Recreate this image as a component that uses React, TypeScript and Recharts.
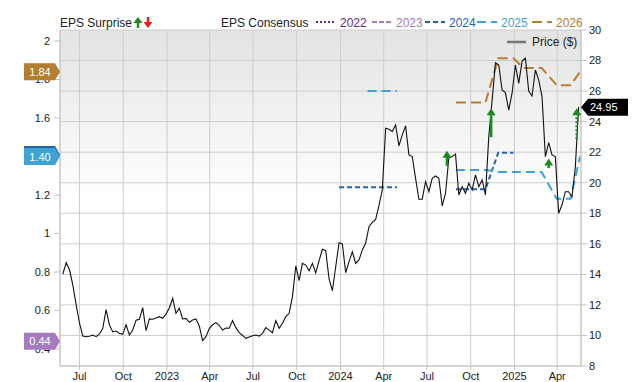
import React from "react";
import {
  CartesianGrid,
  ComposedChart,
  Line,
  ReferenceDot,
  ReferenceLine,
  XAxis,
  YAxis,
} from "recharts";

const DAY_MS = 86400000;
const toDay = (iso: string) => Date.parse(iso + "T00:00:00Z") / DAY_MS;

// weekly closing price, first week ending 2022-05-27
const priceStart = "2022-05-27";
const priceValues = [
  14.02, 14.77, 14.3, 13.3, 12.0, 10.8, 9.96, 9.92, 9.95, 10.03,
  9.92, 10.1, 10.47, 11.7, 10.68, 10.23, 10.29, 10.14, 10.07, 10.7,
  10.03, 10.36, 11.0, 11.06, 11.82, 10.31, 11.08, 11.06, 11.15, 11.23,
  11.12, 11.4, 11.8, 12.43, 11.45, 11.78, 11.08, 11.12, 10.86, 11.01,
  11.08, 10.62, 9.66, 9.92, 10.45, 10.7, 10.84, 10.65, 10.36, 10.49,
  10.47, 10.97, 10.51, 10.18, 10.0, 9.81, 9.9, 9.98, 10.03, 9.96,
  10.14, 10.51, 10.35, 10.18, 10.97, 10.47, 10.8, 11.23, 11.45, 12.54,
  14.55, 13.59, 14.72, 14.61, 14.24, 14.72, 14.1, 14.9, 15.64, 15.55,
  13.7, 12.93, 14.5, 16.07, 15.99, 14.11, 14.83, 15.48, 14.72, 14.94,
  15.6, 16.04, 17.12, 17.4, 17.6, 18.5, 19.53, 23.57, 23.5, 23.35,
  23.78, 22.41, 23.13, 23.72, 21.82, 21.71, 20.29, 18.92, 18.92, 20.07,
  19.41, 20.29, 20.44, 20.29, 18.48, 19.31, 21.64, 21.71, 21.88, 19.2,
  19.74, 19.31, 19.97, 19.53, 20.51, 19.74, 20.18, 19.2, 23.0, 25.4,
  27.86, 27.71, 26.07, 25.9, 24.76, 25.86, 27.71, 26.51, 27.95, 28.15,
  26.0, 25.68, 27.38, 26.73, 25.64, 21.71, 22.63, 21.82, 21.71, 18.0,
  18.54, 19.41, 19.41, 19.08, 21.0, 24.95,
];
const lastPrice = 24.95;

const xDomain = ["2022-05-21", "2025-05-21"];
const xTickDates = [
  "2022-07-01", "2022-10-01", "2023-01-01", "2023-04-01", "2023-07-01", "2023-10-01",
  "2024-01-01", "2024-04-01", "2024-07-01", "2024-10-01", "2025-01-01", "2025-04-01",
];
const xTickLabels = ["Jul", "Oct", "2023", "Apr", "Jul", "Oct", "2024", "Apr", "Jul", "Oct", "2025", "Apr"];

const epsTicks = [0.4, 0.6, 0.8, 1, 1.2, 1.4, 1.6, 1.8, 2];
const priceTicks = [8, 10, 12, 14, 16, 18, 20, 22, 24, 26, 28, 30];

// EPS consensus by fiscal year (null = gap)
const cons2024Dates = ["2023-12-29", "2024-04-29", "2024-06-15", "2024-08-31", "2024-11-01", "2024-11-28", "2024-12-30"];
const cons2024 = [1.24, 1.24, null, 1.23, 1.23, 1.42, 1.42];
const cons2025Dates = [
  "2024-02-27", "2024-04-29", "2024-06-15", "2024-08-31", "2024-11-01", "2024-11-28",
  "2025-02-27", "2025-03-31", "2025-04-29", "2025-05-19",
];
const cons2025 = [1.74, 1.74, null, 1.33, 1.33, 1.32, 1.32, 1.18, 1.18, 1.4];
const cons2026Dates = [
  "2024-08-31", "2024-11-01", "2024-11-28", "2024-12-30", "2025-01-20",
  "2025-02-27", "2025-03-31", "2025-04-29", "2025-05-19",
];
const cons2026 = [1.68, 1.68, 1.91, 1.91, 1.86, 1.86, 1.77, 1.77, 1.84];

// EPS surprise arrows: consensus -> actual
const surpriseDates = ["2024-08-12", "2024-11-13", "2025-03-14", "2025-05-12"];
const surpriseBase = [1.35, 1.5, 1.34, 1.49];
const surpriseActual = [1.43, 1.65, 1.39, 1.65];
const surprisePending = [false, false, false, true];

// latest consensus badges (2024 sits behind 2025, its text hidden)
const badgeYears = ["2023", "2024", "2025", "2026"];
const badgeValues = [0.44, 1.41, 1.4, 1.84];
const badgeShowText = [true, false, true, true];

const yearColors: Record<string, string> = {
  "2022": "#5a2d80",
  "2023": "#a57bbd",
  "2024": "#2462ab",
  "2025": "#3fa2d3",
  "2026": "#b37e30",
};
const yearDash: Record<string, string> = {
  "2022": "2 2",
  "2023": "5 2",
  "2024": "5 3",
  "2025": "9 5",
  "2026": "10 5",
};
const legendYears = ["2022", "2023", "2024", "2025", "2026"];

const GREEN = "#1f8a1f";
const FONT = "'Liberation Sans', Arial, Helvetica, sans-serif";
const MARGIN = { top: 30, right: 0, bottom: 0, left: 0 };
const EPS_DOMAIN = [0.312, 2.057];
const PRICE_DOMAIN = [8, 30];

const priceData = priceValues.map((p, i) => ({ t: toDay(priceStart) + 7 * i, price: p }));
const series = (dates: string[], vals: (number | null)[]) =>
  dates.map((d, i) => ({ t: toDay(d), v: vals[i] }));

const consensus = [
  { year: "2024", data: series(cons2024Dates, cons2024) },
  { year: "2025", data: series(cons2025Dates, cons2025) },
  { year: "2026", data: series(cons2026Dates, cons2026) },
];

function LeftBadge(props: any) {
  const { viewBox, color, text } = props;
  const x = viewBox.x;
  const y = viewBox.y;
  const h = 8.5;
  return (
    <g>
      <polygon
        points={`${x - 36},${y - h} ${x - 5},${y - h} ${x},${y} ${x - 5},${y + h} ${x - 36},${y + h}`}
        fill={color}
      />
      {text ? (
        <text x={x - 20} y={y + 4} textAnchor="middle" fill="#fff" fontSize={11} fontFamily={FONT}>
          {text}
        </text>
      ) : null}
    </g>
  );
}

function RightBadge(props: any) {
  const { viewBox, text } = props;
  const x = viewBox.x + viewBox.width;
  const y = viewBox.y;
  const h = 8.5;
  return (
    <g>
      <polygon
        points={`${x},${y} ${x + 7},${y - h} ${x + 47},${y - h} ${x + 47},${y + h} ${x + 7},${y + h}`}
        fill="#000"
      />
      <text x={x + 9} y={y + 4} fill="#fff" fontSize={11} fontFamily={FONT}>
        {text}
      </text>
    </g>
  );
}

function ArrowHead(props: any) {
  const { cx, cy } = props;
  return <polygon points={`${cx},${cy} ${cx + 4.5},${cy + 7} ${cx - 4.5},${cy + 7}`} fill={GREEN} />;
}

function LegendOverlay() {
  const swatchX = [316, 372, 425, 477, 532];
  return (
    <svg
      width={640}
      height={60}
      style={{ position: "absolute", left: 0, top: 0, pointerEvents: "none" }}
      fontFamily={FONT}
    >
      <text x={60} y={27} fontSize={12} fill="#222">EPS Surprise</text>
      <line x1={138} y1={28} x2={138} y2={22} stroke={GREEN} strokeWidth={2.5} />
      <polygon points="138,17 142.5,23 133.5,23" fill={GREEN} />
      <line x1={148} y1={17} x2={148} y2={23} stroke="#e8201c" strokeWidth={2.5} />
      <polygon points="148,28 152.5,22 143.5,22" fill="#e8201c" />
      <text x={221} y={27} fontSize={12} fill="#222">EPS Consensus</text>
      {legendYears.map((yr, i) => (
        <g key={yr}>
          <line
            x1={swatchX[i]}
            y1={22}
            x2={swatchX[i] + 20}
            y2={22}
            stroke={yearColors[yr]}
            strokeWidth={2}
            strokeDasharray={yearDash[yr]}
          />
          <text x={swatchX[i] + 24} y={27} fontSize={12} fill={yearColors[yr]}>
            {yr}
          </text>
        </g>
      ))}
      <line x1={507} y1={42} x2={526} y2={42} stroke="#777" strokeWidth={2.5} />
      <text x={532} y={46} fontSize={12} fill="#222">Price ($)</text>
    </svg>
  );
}

export default function App() {
  const xTicks = xTickDates.map(toDay);
  const labelOf = (v: number) => xTickLabels[xTicks.indexOf(v)] ?? "";
  const xDom = [toDay(xDomain[0]), toDay(xDomain[1])];
  return (
    <div style={{ position: "absolute", left: 0, top: 0, width: 640, height: 382, background: "#fff" }}>
      <svg width={0} height={0} style={{ position: "absolute" }}>
        <defs>
          <linearGradient id="plotBg" x1="0" y1="0" x2="0" y2="1">
            <stop offset="0%" stopColor="#e3e3e3" />
            <stop offset="50%" stopColor="#ffffff" />
            <stop offset="100%" stopColor="#ffffff" />
          </linearGradient>
        </defs>
      </svg>
      <div style={{ position: "absolute", left: 0, top: 0 }}>
        <ComposedChart width={640} height={382} data={priceData} margin={MARGIN} style={{ fontFamily: FONT }}>
          <CartesianGrid yAxisId="price" stroke="#cdcdcd" fill="url(#plotBg)" fillOpacity={1} />
          <XAxis
            dataKey="t"
            type="number"
            domain={xDom}
            ticks={xTicks}
            tickFormatter={labelOf}
            allowDataOverflow
            height={16}
            tickSize={4}
            tick={{ fill: "#222", fontSize: 11 }}
            stroke="#c4c4c4"
          />
          <YAxis
            yAxisId="eps"
            orientation="left"
            type="number"
            domain={EPS_DOMAIN}
            ticks={epsTicks}
            allowDataOverflow
            width={60}
            tickSize={6}
            tickMargin={4}
            tick={{ fill: "#222", fontSize: 11 }}
            stroke="#c4c4c4"
          />
          <YAxis
            yAxisId="price"
            orientation="right"
            type="number"
            domain={PRICE_DOMAIN}
            ticks={priceTicks}
            allowDataOverflow
            width={59}
            tickSize={6}
            tick={{ fill: "#222", fontSize: 11 }}
            stroke="#c4c4c4"
          />
          {consensus.map((c) => (
            <Line
              key={c.year}
              data={c.data}
              dataKey="v"
              yAxisId="eps"
              type="linear"
              stroke={yearColors[c.year]}
              strokeWidth={2}
              strokeDasharray={yearDash[c.year]}
              dot={false}
              activeDot={false}
              isAnimationActive={false}
            />
          ))}
          <Line
            dataKey="price"
            yAxisId="price"
            type="linear"
            stroke="#111"
            strokeWidth={1.1}
            dot={false}
            activeDot={false}
            isAnimationActive={false}
          />
        </ComposedChart>
      </div>
      {/* overlay chart with the same layout, so badges and arrows sit above the axes */}
      <div style={{ position: "absolute", left: 0, top: 0, pointerEvents: "none" }}>
        <ComposedChart width={640} height={382} data={priceData} margin={MARGIN} style={{ fontFamily: FONT }}>
          <XAxis
            dataKey="t"
            type="number"
            domain={xDom}
            allowDataOverflow
            height={16}
            tick={false}
            tickLine={false}
            axisLine={false}
          />
          <YAxis
            yAxisId="eps"
            orientation="left"
            type="number"
            domain={EPS_DOMAIN}
            allowDataOverflow
            width={60}
            tick={false}
            tickLine={false}
            axisLine={false}
          />
          <YAxis
            yAxisId="price"
            orientation="right"
            type="number"
            domain={PRICE_DOMAIN}
            allowDataOverflow
            width={59}
            tick={false}
            tickLine={false}
            axisLine={false}
          />
          {surpriseDates.map((d, i) => (
            <ReferenceLine
              key={"s" + d}
              yAxisId="eps"
              segment={[
                { x: toDay(d), y: surpriseBase[i] },
                { x: toDay(d), y: surpriseActual[i] - 0.02 },
              ]}
              stroke={GREEN}
              strokeWidth={2.5}
              strokeDasharray={surprisePending[i] ? "2 2" : undefined}
            />
          ))}
          {surpriseDates.map((d, i) => (
            <ReferenceDot
              key={"h" + d}
              yAxisId="eps"
              x={toDay(d)}
              y={surpriseActual[i]}
              shape={(p: any) => <ArrowHead {...p} />}
            />
          ))}
          {badgeYears.map((yr, i) => (
            <ReferenceLine
              key={"b" + yr}
              yAxisId="eps"
              y={badgeValues[i]}
              stroke="none"
              label={(p: any) => (
                <LeftBadge
                  viewBox={p.viewBox}
                  color={yearColors[yr]}
                  text={badgeShowText[i] ? badgeValues[i].toFixed(2) : ""}
                />
              )}
            />
          ))}
          <ReferenceLine
            yAxisId="price"
            y={lastPrice}
            stroke="none"
            label={(p: any) => <RightBadge viewBox={p.viewBox} text={lastPrice.toFixed(2)} />}
          />
        </ComposedChart>
      </div>
      <LegendOverlay />
    </div>
  );
}
